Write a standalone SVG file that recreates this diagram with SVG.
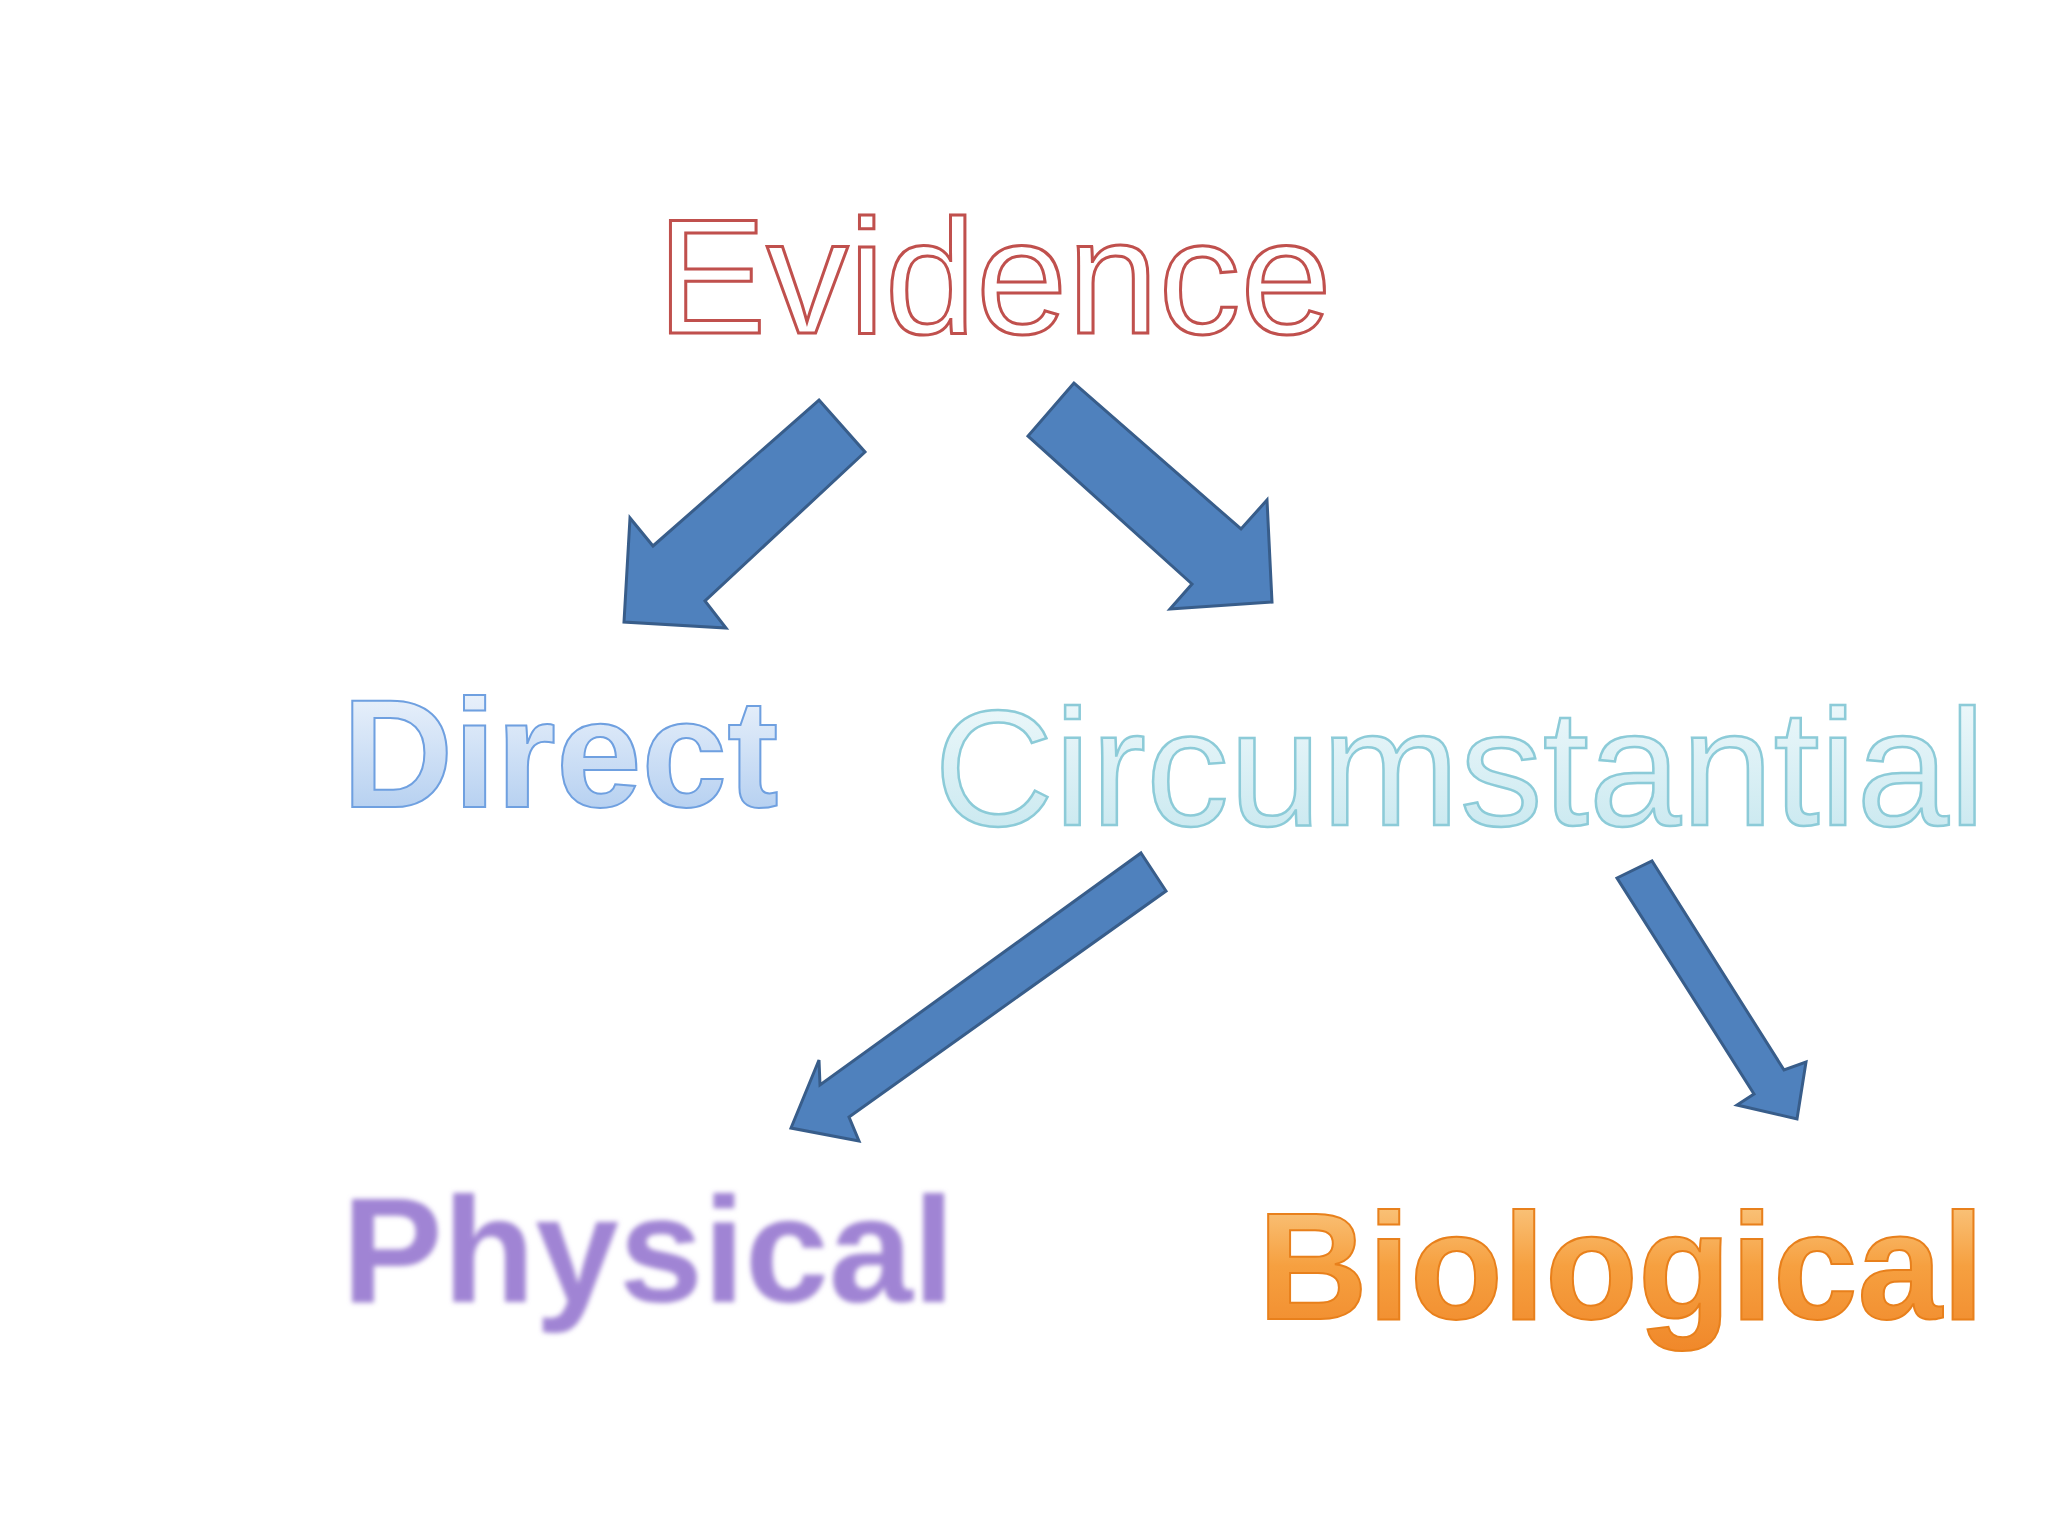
<svg xmlns="http://www.w3.org/2000/svg" width="2048" height="1536" viewBox="0 0 2048 1536">
<style>
.a{fill:#4f81bd;stroke:#385d8a;stroke-width:3;stroke-linejoin:miter}
text{font-family:"Liberation Sans",Arial,sans-serif}
</style>
<defs>
<linearGradient id="gd" x1="0" y1="0" x2="0" y2="1"><stop offset="0" stop-color="#f4f8fd"/><stop offset="1" stop-color="#a9c8ee"/></linearGradient>
<linearGradient id="gc" x1="0" y1="0" x2="0" y2="1"><stop offset="0" stop-color="#f2fafc"/><stop offset="1" stop-color="#c4e6ee"/></linearGradient>
<linearGradient id="gb" x1="0" y1="0" x2="0" y2="1"><stop offset="0" stop-color="#fbd090"/><stop offset="0.5" stop-color="#f6a040"/><stop offset="1" stop-color="#f0882a"/></linearGradient>
<filter id="blur"><feGaussianBlur stdDeviation="2.5"/></filter>
</defs>
<rect width="2048" height="1536" fill="#fff"/>
<g id="evidence"><text x="657" y="333" font-size="164" fill="#fff" stroke="#c0504d" stroke-width="3">Evidence</text></g>
<g id="direct"><text x="342" y="807" font-size="154" font-weight="bold" fill="url(#gd)" stroke="#6fa0e0" stroke-width="2">Direct</text></g>
<g id="circumstantial"><text x="934" y="825" font-size="166" fill="url(#gc)" stroke="#8ccbd8" stroke-width="2.5">Circumstantial</text></g>
<g id="physical"><text x="342" y="1302" font-size="151" font-weight="bold" fill="#a084d4" filter="url(#blur)">Physical</text></g>
<g id="biological"><text x="1258" y="1319" font-size="152" font-weight="bold" fill="url(#gb)" stroke="#e8801c" stroke-width="2">Biological</text></g>
<g id="connectors">
<polygon class="a" points="819,400 865,452 705,601 726,628 624,622 630,518 653,546"/>
<polygon class="a" points="1074,383 1028,436 1192,584 1170,609 1272,602 1267,500 1241,529"/>
<polygon class="a" points="1141,853 1166,891 849,1117 859,1141 791,1128 819,1060 820,1085"/>
<polygon class="a" points="1617,878 1652,861 1784,1070 1806,1062 1797,1119 1737,1105 1754,1094"/>
</g>
</svg>
